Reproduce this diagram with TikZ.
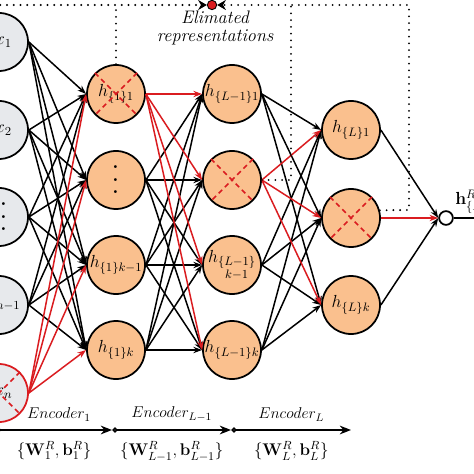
\documentclass[tikz,border=0pt]{standalone}
\usepackage{fix-cm}
\usepackage{amsmath}
\usetikzlibrary{arrows.meta}

\definecolor{peach}{RGB}{250,192,142}
\definecolor{ingray}{RGB}{231,233,236}
\definecolor{cutred}{RGB}{218,28,32}

\newcommand{\hlab}[1]{\makebox[0pt]{$#1$}}
\newcommand{\xlab}[1]{\makebox[0pt]{\hspace{7pt}$#1$}}
\newcommand{\bigdots}{\vbox{\fontsize{28}{10}\selectfont\baselineskip=10pt\lineskiplimit=-100pt\hbox{.}\hbox{.}\hbox{.}}}

\tikzset{
  neuron/.style={circle, draw=black, line width=1.4pt, fill=peach, minimum size=46.4pt, inner sep=0pt, font=\fontsize{14}{17}\selectfont},
  inneuron/.style={neuron, fill=ingray},
  conn/.style={line width=1.2pt, -{Stealth[length=7pt,width=5pt]}},
  redconn/.style={conn, draw=cutred},
  cutmark/.style={cutred, line width=1.2pt, dash pattern=on 4pt off 3pt},
  dotline/.style={line width=1.7pt, line cap=round, dash pattern=on 0pt off 5.4pt},
  mergedot/.style={circle, draw=black, line width=0.7pt, fill=cutred, minimum size=7.5pt, inner sep=0pt},
  encline/.style={line width=1.3pt, {Circle[open,length=4pt,width=4pt]}-{Stealth[length=9pt,width=7pt]}},
  enclab/.style={font=\fontsize{12.5}{14}\selectfont},
  parlab/.style={font=\fontsize{13.5}{16}\selectfont},
}

\begin{document}
\begin{tikzpicture}[x=0.8pt, y=-0.8pt]
\useasboundingbox (0,0) rectangle (474,474);
% Parameters
\def\xin{-1}
\def\xA{116}
\def\xB{232}
\def\xC{351}

% === Input Layer ===
\foreach \i/\ypos/\lab in {1/42/{x_1}, 2/130/{x_2}, 3/217/{\bigdots}, 4/305/{x_{n-1}}}{
  \node[inneuron] (Input-\i) at (\xin,\ypos) {\xlab{\lab}};
}
\node[inneuron, draw=cutred] (Input-5) at (\xin,393) {\xlab{x_n}};

% === Hidden Layer 1 ===
\foreach \i/\ypos/\lab in {1/94/{h_{\{1\}1}}, 2/180/{\bigdots}, 3/265/{h_{\{1\}k-1}}, 4/350/{h_{\{1\}k}}}{
  \node[neuron] (HiddenA-\i) at (\xA,\ypos) {\hlab{\lab}};
}

% === Hidden Layer L-1 ===
\foreach \i/\ypos/\lab in {1/94/{h_{\{L-1\}1}}, 2/180/{}, 3/265/{h_{\substack{\{L-1\}\\ k-1}}}, 4/350/{h_{\{L-1\}k}}}{
  \node[neuron] (HiddenB-\i) at (\xB,\ypos) {\hlab{\lab}};
}

% === Hidden Layer L ===
\foreach \i/\ypos/\lab in {1/130/{h_{\{L\}1}}, 2/218/{}, 3/305/{h_{\{L\}k}}}{
  \node[neuron] (HiddenC-\i) at (\xC,\ypos) {\hlab{\lab}};
}

% === Output ===
\node[circle, draw, line width=1.4pt, fill=white, minimum size=11pt, inner sep=0pt] (Output) at (446,218) {};
\coordinate (OutEnd) at (500,218);
\node[anchor=south west, inner sep=0pt, font=\fontsize{14}{17}\selectfont] (OutLab) at (455,214) {$\mathbf{h}^{R}_{\{L\}}$};

% === Connections ===
% Input -> Hidden 1
\foreach \i in {1,...,4}{
  \foreach \j in {1,...,4}{
    \draw[conn] (Input-\i.east) -- (HiddenA-\j.west);
  }
}
\foreach \j in {1,...,4}{
  \draw[redconn] (Input-5.east) -- (HiddenA-\j.west);
}

% Hidden 1 -> Hidden L-1
\foreach \i in {2,...,4}{
  \foreach \j in {1,...,4}{
    \draw[conn] (HiddenA-\i.east) -- (HiddenB-\j.west);
  }
}
\foreach \j in {1,...,4}{
  \draw[redconn] (HiddenA-1.east) -- (HiddenB-\j.west);
}

% Hidden L-1 -> Hidden L
\foreach \i in {1,3,4}{
  \foreach \j in {1,...,3}{
    \draw[conn] (HiddenB-\i.east) -- (HiddenC-\j.west);
  }
}
\foreach \j in {1,...,3}{
  \draw[redconn] (HiddenB-2.east) -- (HiddenC-\j.west);
}

% Hidden L -> Output
\foreach \i in {1,3}{
  \draw[conn] (HiddenC-\i.east) -- (Output.west);
}
\draw[redconn] (HiddenC-2.east) -- (Output.west);
\draw[line width=1.4pt] (Output.east) -- (OutEnd);

% === Eliminated units ===
\foreach \n in {Input-5, HiddenA-1, HiddenB-2, HiddenC-2}{
  \draw[cutmark] (\n.north west) -- (\n.south east);
  \draw[cutmark] (\n.north east) -- (\n.south west);
}

% === Elimination paths ===
\node[mergedot] (Merge) at (212,5) {};
\coordinate (TopL) at (-20,5);
\coordinate (TopA) at (\xA,5);
\coordinate (BendB) at (291,180);
\coordinate (TopB) at (291,5);
\coordinate (BendC) at (409,210);
\coordinate (TopR) at (409,5);
\draw[dotline] (HiddenA-1.north) -- (TopA);
\draw[dotline] (HiddenB-2.east) -- (BendB) -- (TopB);
\draw[dotline, -{Stealth[length=7pt,width=8pt]}] (TopL) -- (Merge);
\draw[dotline, -{Stealth[length=7pt,width=8pt]}] (HiddenC-2.15) -- (BendC) -- (TopR) -- (Merge);
\node[font=\itshape\fontsize{14.5}{15}\selectfont, align=center] (ElimText) at (215,28) {Elimated\\representations};

% === Encoders ===
\coordinate (Enc-0) at (-4,430);
\coordinate (Enc-1) at (112,430);
\coordinate (Enc-1b) at (112.5,430);
\coordinate (Enc-2) at (231,430);
\coordinate (Enc-2b) at (231.5,430);
\coordinate (Enc-3) at (351,430);
\draw[encline] (Enc-0) -- (Enc-1)
  node[midway, above=3pt, enclab, xshift=4pt] (EncName-1) {$Encoder_1$}
  node[midway, below=5pt, parlab] (EncPar-1) {$\{\mathbf{W}^R_1,\mathbf{b}^R_1\}$};
\draw[encline] (Enc-1b) -- (Enc-2)
  node[midway, above=3pt, enclab] (EncName-2) {$Encoder_{L-1}$}
  node[midway, below=5pt, parlab] (EncPar-2) {$\{\mathbf{W}^R_{L-1},\mathbf{b}^R_{L-1}\}$};
\draw[encline] (Enc-2b) -- (Enc-3)
  node[midway, above=3pt, enclab] (EncName-3) {$Encoder_L$}
  node[midway, below=5pt, parlab] (EncPar-3) {$\{\mathbf{W}^R_L,\mathbf{b}^R_L\}$};

\end{tikzpicture}
\end{document}
